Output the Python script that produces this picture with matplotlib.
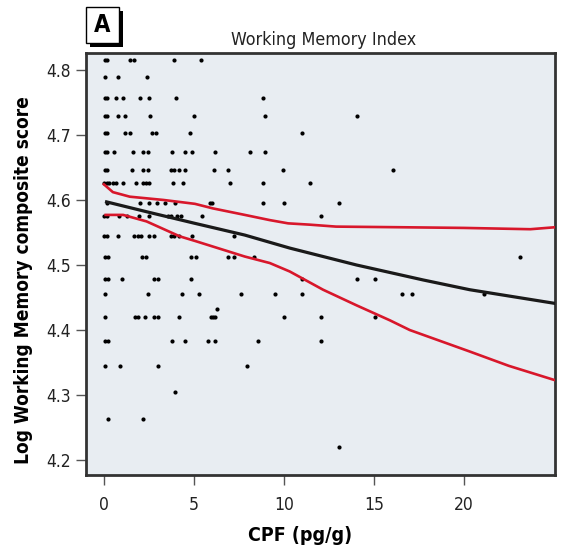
import matplotlib
matplotlib.use("Agg")
import matplotlib.pyplot as plt
from matplotlib.patches import Rectangle

plt.rcParams['font.family'] = ['DejaVu Sans']
plt.rcParams['font.stretch'] = 'condensed'

# scatter: CPF (pg/g) vs log working memory score, read row by row
cpf = [
    0.06, 0.2, 1.46, 1.65, 3.87, 5.4,
    0.06, 0.8, 2.37,
    0.06, 0.2, 0.67, 1.04, 2.0, 2.5, 4.0, 8.83,
    0.06, 0.2, 0.8, 1.18, 2.55, 5.0, 8.94, 14.07,
    0.06, 0.2, 1.18, 1.46, 2.67, 2.89, 4.8, 11.02,
    0.06, 0.2, 0.54, 1.63, 2.15, 2.43, 3.81, 4.52, 4.89, 6.17, 8.13, 8.93,
    0.06, 0.2, 1.54, 2.18, 2.43, 3.72, 3.91, 4.18, 4.52, 6.11, 6.91, 9.93, 16.07,
    0.02, 0.15, 0.3, 0.48, 0.7, 1.04, 1.78, 2.18, 2.33, 2.48, 3.85, 4.37, 7.0, 8.83, 11.46,
    0.15, 2.0, 2.52, 2.94, 3.39, 3.96, 5.89, 6.02, 8.83, 10.03, 13.06,
    0.02, 0.2, 0.85, 1.31, 1.96, 2.48, 3.54, 3.72, 4.09, 4.28, 5.46, 12.06,
    0.02, 0.2, 0.76, 1.69, 1.87, 2.06, 2.52, 2.8, 3.72, 3.91, 4.18, 4.89, 7.22,
    0.06, 0.24, 2.11, 2.33, 4.83, 5.11, 6.91, 7.22, 8.33, 23.15,
    0.06, 0.24, 1.0, 2.8, 2.98, 4.85, 11.02, 14.07, 15.09,
    0.06, 2.43, 4.33, 5.3, 7.61, 9.53, 11.03, 16.54, 17.11, 21.13,
    6.31,
    0.06, 1.74, 1.87, 2.3, 2.8, 2.98, 4.18, 5.94, 6.07, 6.2, 10.03, 12.06, 15.09,
    0.06, 0.24, 3.8, 4.5, 5.8, 6.2, 8.54, 12.06,
    0.06, 0.89, 2.98, 7.93,
    3.98,
    0.24, 2.18,
    13.06,
]
log_wm = (
    [4.815] * 6 + [4.789] * 3 + [4.756] * 8 + [4.729] * 8 + [4.703] * 8
    + [4.674] * 12 + [4.646] * 13 + [4.626] * 15 + [4.596] * 11 + [4.576] * 12
    + [4.545] * 13 + [4.512] * 10 + [4.478] * 9 + [4.455] * 10 + [4.432]
    + [4.420] * 13 + [4.383] * 8 + [4.345] * 4 + [4.305] + [4.264] * 2 + [4.220]
)

# fitted curve and 95% band
fit_x = [0.15, 2.5, 5.06, 7.83, 10.33, 14.04, 17.74, 20.33, 25.06]
fit_y = [4.597, 4.581, 4.564, 4.546, 4.526, 4.500, 4.477, 4.462, 4.441]
upper_x = [0.0, 0.5, 1.44, 3.3, 5.06, 6.06, 7.83, 9.22, 10.24, 11.44, 12.9, 16.6, 20, 23.7, 25.06]
upper_y = [4.624, 4.612, 4.605, 4.600, 4.594, 4.587, 4.577, 4.569, 4.564, 4.562, 4.559, 4.558, 4.557, 4.555, 4.558]
lower_x = [0.1, 1.07, 2.37, 4.22, 5.06, 7.83, 9.22, 10.33, 12.18, 14.04, 15.89, 17.0, 20.33, 22.5, 25.06]
lower_y = [4.577, 4.577, 4.567, 4.544, 4.537, 4.513, 4.503, 4.490, 4.462, 4.438, 4.415, 4.400, 4.367, 4.345, 4.323]

xticks = [0, 5, 10, 15, 20]
yticks = [4.2, 4.3, 4.4, 4.5, 4.6, 4.7, 4.8]

fig = plt.figure(figsize=(5.65, 5.57), dpi=100)
ax = fig.add_axes([0.152, 0.147, 0.830, 0.758])
ax.set_facecolor('#e8edf2')

ax.scatter(cpf, log_wm, s=9, color='black', zorder=3, linewidths=0)
ax.plot(fit_x, fit_y, color='#1a1a1a', lw=2.3, zorder=4)
ax.plot(upper_x, upper_y, color='#d8172b', lw=1.9, zorder=4)
ax.plot(lower_x, lower_y, color='#d8172b', lw=1.9, zorder=4)

ax.set_xlim(-1.0, 25.06)
ax.set_ylim(4.177, 4.826)
ax.set_xticks(xticks)
ax.set_yticks(yticks)
ax.set_yticklabels([f'{v:.1f}' for v in yticks])
ax.tick_params(axis='both', labelsize=12.5, labelcolor='#222222', color='#555555',
               width=1.0, direction='out')
ax.tick_params(axis='x', length=7, pad=8)
ax.tick_params(axis='y', length=7, pad=4)
for sp in ax.spines.values():
    sp.set_linewidth(2)
    sp.set_color('#333333')

ax.set_title('Working Memory Index', fontsize=12.8, pad=6, color='#222222', x=0.508)
ax.set_ylabel('Log Working Memory composite score', fontsize=13.7, fontweight='bold')
ax.yaxis.set_label_coords(-0.112, 0.462)
ax.set_xlabel('CPF (pg/g)', fontsize=14, fontweight='bold')
ax.xaxis.set_label_coords(0.456, -0.12)

# panel letter box with drop shadow
W, H = 565, 557
fig.patches.append(Rectangle((90 / W, 1 - 47 / H), 33 / W, 36 / H, transform=fig.transFigure,
                             facecolor='black', edgecolor='none', zorder=1))
fig.patches.append(Rectangle((86 / W, 1 - 43 / H), 33 / W, 36 / H, transform=fig.transFigure,
                             facecolor='white', edgecolor='black', linewidth=1, zorder=2))
fig.text(102.5 / W, 1 - 25 / H, 'A', fontsize=17, fontweight='bold', ha='center', va='center', zorder=3)

fig.savefig('out.png', dpi=100)
